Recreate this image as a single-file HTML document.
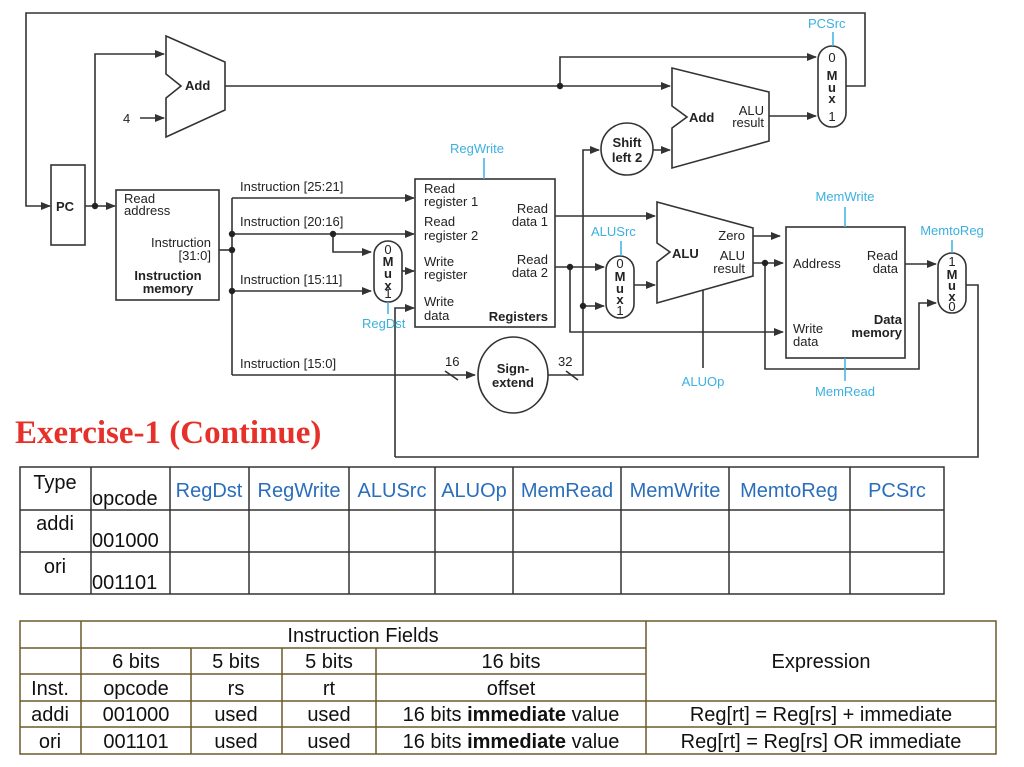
<!DOCTYPE html>
<html><head><meta charset="utf-8"><style>
html,body{margin:0;padding:0;background:#fff;width:1024px;height:767px;overflow:hidden}
svg{display:block}
.d{font-family:"Liberation Sans",Arial,sans-serif;font-size:13px;fill:#222}
.b{font-weight:bold}
.c{fill:#3bb0e0}
.t{font-family:"Liberation Sans",Arial,sans-serif;font-size:20px;fill:#111}
.tb{fill:#2a6ebb}
</style></head><body>
<svg width="1024" height="767" viewBox="0 0 1024 767">
<defs><marker id="a" markerWidth="10" markerHeight="8" refX="9" refY="4" orient="auto" markerUnits="userSpaceOnUse"><path d="M0,0 L10,4 L0,8 z" fill="#333"/></marker></defs>
<g stroke="#333" stroke-width="1.6" fill="none">
<polyline points="846,86 865,86 865,13 26,13 26,206 50,206" marker-end="url(#a)"/>
<rect x="51" y="165" width="34" height="80" fill="#fff"/>
<polyline points="85,206 115,206" marker-end="url(#a)"/>
<polyline points="95,206 95,54 164,54" marker-end="url(#a)"/>
<polyline points="140,118 164,118" marker-end="url(#a)"/>
<polygon points="166,36 225,62 225,110 166,137 166,98 181,86 166,74" fill="#fff"/>
<polyline points="225,86 670,86" marker-end="url(#a)"/>
<polyline points="560,86 560,57 816,57" marker-end="url(#a)"/>
<rect x="116" y="190" width="103" height="110" fill="#fff"/>
<polyline points="219,250 232,250"/>
<polyline points="232,198 232,375"/>
<polyline points="232,198 414,198" marker-end="url(#a)"/>
<polyline points="232,234 414,234" marker-end="url(#a)"/>
<polyline points="333,234 333,252 371,252" marker-end="url(#a)"/>
<polyline points="232,291 371,291" marker-end="url(#a)"/>
<polyline points="232,375 475,375" marker-end="url(#a)"/>
<line x1="445" y1="371" x2="458" y2="380"/>
<rect x="374" y="241" width="28" height="61" rx="14" fill="#fff"/>
<polyline points="402,271 414,271" marker-end="url(#a)"/>
<rect x="415" y="179" width="140" height="148" fill="#fff"/>
<polyline points="395,457 395,308 414,308" marker-end="url(#a)"/>
<polyline points="966,285 978,285 978,457 395,457"/>
<ellipse cx="513" cy="375" rx="35" ry="38" fill="#fff"/>
<polyline points="548,375 583,375 583,150 599,150" marker-end="url(#a)"/>
<line x1="566" y1="371" x2="578" y2="380"/>
<polyline points="583,306 604,306" marker-end="url(#a)"/>
<circle cx="627" cy="149" r="26" fill="#fff"/>
<polyline points="653,150 670,150" marker-end="url(#a)"/>
<polygon points="672,68 769,92 769,141 672,168 672,128 687,117 672,106" fill="#fff"/>
<polyline points="769,116 816,116" marker-end="url(#a)"/>
<rect x="818" y="46" width="28" height="81" rx="14" fill="#fff"/>
<polyline points="555,216 655,216" marker-end="url(#a)"/>
<polyline points="555,267 604,267" marker-end="url(#a)"/>
<polyline points="570,267 570,332 783,332" marker-end="url(#a)"/>
<rect x="606" y="256" width="28" height="62" rx="14" fill="#fff"/>
<polyline points="634,285 655,285" marker-end="url(#a)"/>
<polygon points="657,202 753,228 753,276 657,303 657,262 670,252 657,243" fill="#fff"/>
<polyline points="753,236 780,236" marker-end="url(#a)"/>
<polyline points="753,263 783,263" marker-end="url(#a)"/>
<polyline points="765,263 765,369 919,369 919,303 936,303" marker-end="url(#a)"/>
<line x1="703" y1="290" x2="703" y2="368"/>
<rect x="786" y="227" width="119" height="131" fill="#fff"/>
<polyline points="905,264 936,264" marker-end="url(#a)"/>
<rect x="938" y="253" width="28" height="60" rx="14" fill="#fff"/>
</g>
<g stroke="#3bb0e0" stroke-width="1.5">
<line x1="484" y1="158" x2="484" y2="179"/><line x1="388" y1="302" x2="388" y2="314"/>
<line x1="833" y1="32" x2="833" y2="46"/><line x1="621" y1="241" x2="621" y2="256"/>
<line x1="845" y1="207" x2="845" y2="227"/><line x1="845" y1="358" x2="845" y2="381"/>
<line x1="952" y1="240" x2="952" y2="253"/>
</g>
<g fill="#222"><circle cx="95" cy="206" r="3.2"/><circle cx="232" cy="250" r="3.2"/><circle cx="232" cy="234" r="3.2"/><circle cx="232" cy="291" r="3.2"/><circle cx="333" cy="234" r="3.2"/><circle cx="560" cy="86" r="3.2"/><circle cx="570" cy="267" r="3.2"/><circle cx="583" cy="306" r="3.2"/><circle cx="765" cy="263" r="3.2"/></g>
<g class="d">
<text x="56" y="211" class="b">PC</text>
<text x="185" y="90" class="b">Add</text>
<text x="123" y="123">4</text>
<text x="124" y="203">Read</text><text x="124" y="215">address</text>
<text x="211" y="247" text-anchor="end">Instruction</text><text x="211" y="260" text-anchor="end">[31:0]</text>
<text x="168" y="280" text-anchor="middle" class="b">Instruction</text><text x="168" y="293" text-anchor="middle" class="b">memory</text>
<text x="240" y="191">Instruction [25:21]</text>
<text x="240" y="226">Instruction [20:16]</text>
<text x="240" y="284">Instruction [15:11]</text>
<text x="240" y="368">Instruction [15:0]</text>
<text x="445" y="366">16</text><text x="558" y="366">32</text>
<g text-anchor="middle"><text x="388" y="254">0</text><text x="388" y="266" class="b">M</text><text x="388" y="278" class="b">u</text><text x="388" y="290" class="b">x</text><text x="388" y="298">1</text></g>
<text x="362" y="328" class="c">RegDst</text>
<text x="450" y="153" class="c">RegWrite</text>
<text x="424" y="193">Read</text><text x="424" y="206">register 1</text>
<text x="424" y="226">Read</text><text x="424" y="240">register 2</text>
<text x="424" y="266">Write</text><text x="424" y="279">register</text>
<text x="424" y="306">Write</text><text x="424" y="320">data</text>
<text x="548" y="213" text-anchor="end">Read</text><text x="548" y="226" text-anchor="end">data 1</text>
<text x="548" y="264" text-anchor="end">Read</text><text x="548" y="277" text-anchor="end">data 2</text>
<text x="548" y="321" text-anchor="end" class="b">Registers</text>
<text x="513" y="373" text-anchor="middle" class="b">Sign-</text><text x="513" y="387" text-anchor="middle" class="b">extend</text>
<text x="627" y="147" text-anchor="middle" class="b">Shift</text><text x="627" y="162" text-anchor="middle" class="b">left 2</text>
<text x="689" y="122" class="b">Add</text><text x="764" y="115" text-anchor="end">ALU</text><text x="764" y="127" text-anchor="end">result</text>
<text x="808" y="28" class="c">PCSrc</text>
<g text-anchor="middle"><text x="832" y="62">0</text><text x="832" y="80" class="b">M</text><text x="832" y="92" class="b">u</text><text x="832" y="103" class="b">x</text><text x="832" y="121">1</text></g>
<text x="591" y="236" class="c">ALUSrc</text>
<g text-anchor="middle"><text x="620" y="268">0</text><text x="620" y="281" class="b">M</text><text x="620" y="293" class="b">u</text><text x="620" y="304" class="b">x</text><text x="620" y="315">1</text></g>
<text x="672" y="258" class="b">ALU</text><text x="745" y="240" text-anchor="end">Zero</text>
<text x="745" y="260" text-anchor="end">ALU</text><text x="745" y="273" text-anchor="end">result</text>
<text x="703" y="386" text-anchor="middle" class="c">ALUOp</text>
<text x="845" y="201" text-anchor="middle" class="c">MemWrite</text>
<text x="845" y="396" text-anchor="middle" class="c">MemRead</text>
<text x="793" y="268">Address</text>
<text x="898" y="260" text-anchor="end">Read</text><text x="898" y="273" text-anchor="end">data</text>
<text x="793" y="333">Write</text><text x="793" y="346">data</text>
<text x="902" y="324" text-anchor="end" class="b">Data</text><text x="902" y="337" text-anchor="end" class="b">memory</text>
<text x="952" y="235" text-anchor="middle" class="c">MemtoReg</text>
<g text-anchor="middle"><text x="952" y="266">1</text><text x="952" y="279" class="b">M</text><text x="952" y="290" class="b">u</text><text x="952" y="301" class="b">x</text><text x="952" y="311">0</text></g>
</g>
<text x="15" y="443" style="font-family:'Liberation Serif',serif;font-weight:bold;font-size:33px;fill:#e5312a">Exercise-1 (Continue)</text>
<g stroke="#333" stroke-width="1.5" fill="none">
<rect x="20" y="467" width="924" height="127"/>
<line x1="20" y1="510" x2="944" y2="510"/><line x1="20" y1="552" x2="944" y2="552"/>
<line x1="91" y1="467" x2="91" y2="594"/><line x1="170" y1="467" x2="170" y2="594"/><line x1="249" y1="467" x2="249" y2="594"/><line x1="349" y1="467" x2="349" y2="594"/><line x1="435" y1="467" x2="435" y2="594"/><line x1="513" y1="467" x2="513" y2="594"/><line x1="621" y1="467" x2="621" y2="594"/><line x1="729" y1="467" x2="729" y2="594"/><line x1="850" y1="467" x2="850" y2="594"/>
</g>
<g class="t">
<text x="55" y="489" text-anchor="middle">Type</text><text x="92" y="505">opcode</text>
<text x="55" y="530" text-anchor="middle">addi</text><text x="92" y="547">001000</text>
<text x="55" y="573" text-anchor="middle">ori</text><text x="92" y="589">001101</text>
<g class="tb" text-anchor="middle"><text x="209" y="497">RegDst</text><text x="299" y="497">RegWrite</text><text x="392" y="497">ALUSrc</text><text x="474" y="497">ALUOp</text><text x="567" y="497">MemRead</text><text x="675" y="497">MemWrite</text><text x="789" y="497">MemtoReg</text><text x="897" y="497">PCSrc</text></g>
</g>
<g stroke="#6b5a2a" stroke-width="1.5" fill="none">
<rect x="20" y="621" width="976" height="133"/>
<line x1="20" y1="648" x2="646" y2="648"/><line x1="20" y1="674" x2="646" y2="674"/><line x1="20" y1="701" x2="996" y2="701"/><line x1="20" y1="727" x2="996" y2="727"/>
<line x1="81" y1="621" x2="81" y2="754"/><line x1="646" y1="621" x2="646" y2="754"/>
<line x1="191" y1="648" x2="191" y2="754"/><line x1="282" y1="648" x2="282" y2="754"/><line x1="376" y1="648" x2="376" y2="754"/>
</g>
<g class="t" text-anchor="middle">
<text x="363" y="642">Instruction Fields</text>
<text x="136" y="668">6 bits</text><text x="236" y="668">5 bits</text><text x="329" y="668">5 bits</text><text x="511" y="668">16 bits</text>
<text x="50" y="695">Inst.</text><text x="136" y="695">opcode</text><text x="236" y="695">rs</text><text x="329" y="695">rt</text><text x="511" y="695">offset</text>
<text x="821" y="668">Expression</text>
<text x="50" y="721">addi</text><text x="136" y="721">001000</text><text x="236" y="721">used</text><text x="329" y="721">used</text><text x="511" y="721">16 bits <tspan font-weight="bold">immediate</tspan> value</text><text x="821" y="721">Reg[rt] = Reg[rs] + immediate</text>
<text x="50" y="748">ori</text><text x="136" y="748">001101</text><text x="236" y="748">used</text><text x="329" y="748">used</text><text x="511" y="748">16 bits <tspan font-weight="bold">immediate</tspan> value</text><text x="821" y="748">Reg[rt] = Reg[rs] OR immediate</text>
</g>
</svg>
</body></html>
